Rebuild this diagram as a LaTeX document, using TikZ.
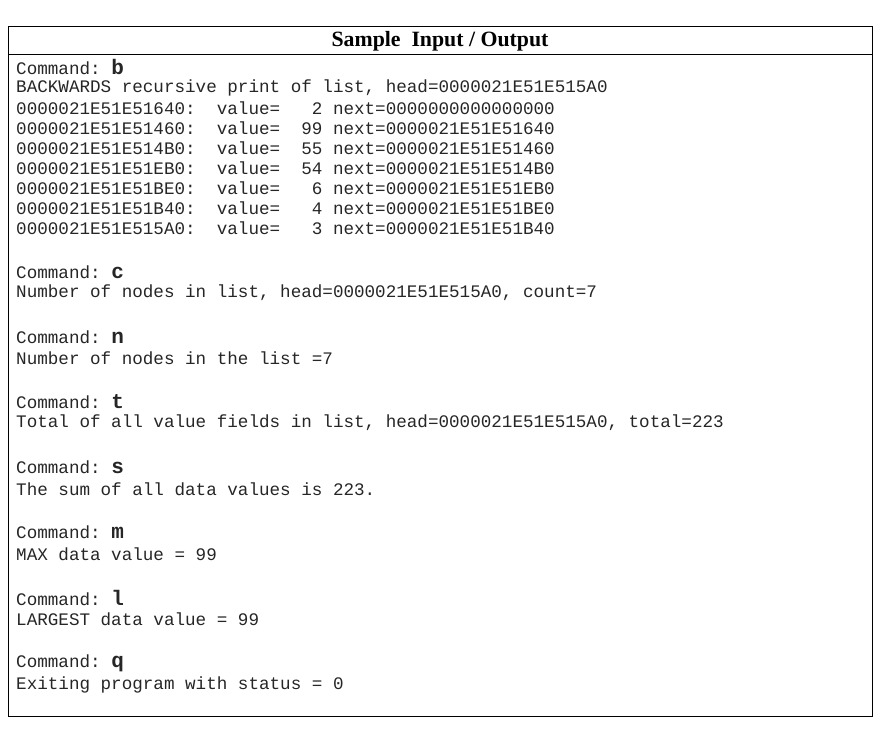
\documentclass[tikz,border=0pt]{standalone}
\usepackage{fontspec}
\setmainfont{Liberation Serif}
\setmonofont{Liberation Mono}
\begin{document}
\begin{tikzpicture}[x=1pt,y=-1pt,
  ln/.style={anchor=west,inner sep=0pt,font=\fontsize{17.6}{20}\ttfamily,text=black!85}]
\useasboundingbox (0,0) rectangle (886,735);
\draw[line width=0.9pt] (8,26) rectangle (872,716);
\draw[line width=0.9pt] (8,54) -- (872,54);
\node[font=\fontsize{21.8}{24}\selectfont\bfseries] (title) at (440,41) {Sample~ Input / Output};
\newcommand{\Cm}[1]{Command:~{\fontsize{21}{20}\selectfont\bfseries #1}}
\node[ln] (a0) at (16,67) {\Cm{b}};
\node[ln] (a1) at (16,88) {BACKWARDS recursive print of list, head=0000021E51E515A0};
\node[ln] (a2) at (16,108) {0000021E51E51640:~~value=~~~2 next=0000000000000000};
\node[ln] (a3) at (16,128) {0000021E51E51460:~~value=~~99 next=0000021E51E51640};
\node[ln] (a4) at (16,148) {0000021E51E514B0:~~value=~~55 next=0000021E51E51460};
\node[ln] (a5) at (16,168) {0000021E51E51EB0:~~value=~~54 next=0000021E51E514B0};
\node[ln] (a6) at (16,188) {0000021E51E51BE0:~~value=~~~6 next=0000021E51E51EB0};
\node[ln] (a7) at (16,208) {0000021E51E51B40:~~value=~~~4 next=0000021E51E51BE0};
\node[ln] (a8) at (16,228) {0000021E51E515A0:~~value=~~~3 next=0000021E51E51B40};
\node[ln] (c0) at (16,272) {\Cm{c}};
\node[ln] (c1) at (16,293) {Number of nodes in list, head=0000021E51E515A0, count=7};
\node[ln] (n0) at (16,337) {\Cm{n}};
\node[ln] (n1) at (16,358) {Number of nodes in the list =7};
\node[ln] (t0) at (16,402) {\Cm{t}};
\node[ln] (t1) at (16,423) {Total of all value fields in list, head=0000021E51E515A0, total=223};
\node[ln] (s0) at (16,467) {\Cm{s}};
\node[ln] (s1) at (16,489) {The sum of all data values is 223.};
\node[ln] (m0) at (16,532) {\Cm{m}};
\node[ln] (m1) at (16,554) {MAX data value = 99};
\node[ln] (l0) at (16,598) {\Cm{l}};
\node[ln] (l1) at (16,619) {LARGEST data value = 99};
\node[ln] (q0) at (16,663) {\Cm{q}};
\node[ln] (q1) at (16,685) {Exiting program with status = 0};
\end{tikzpicture}
\end{document}
